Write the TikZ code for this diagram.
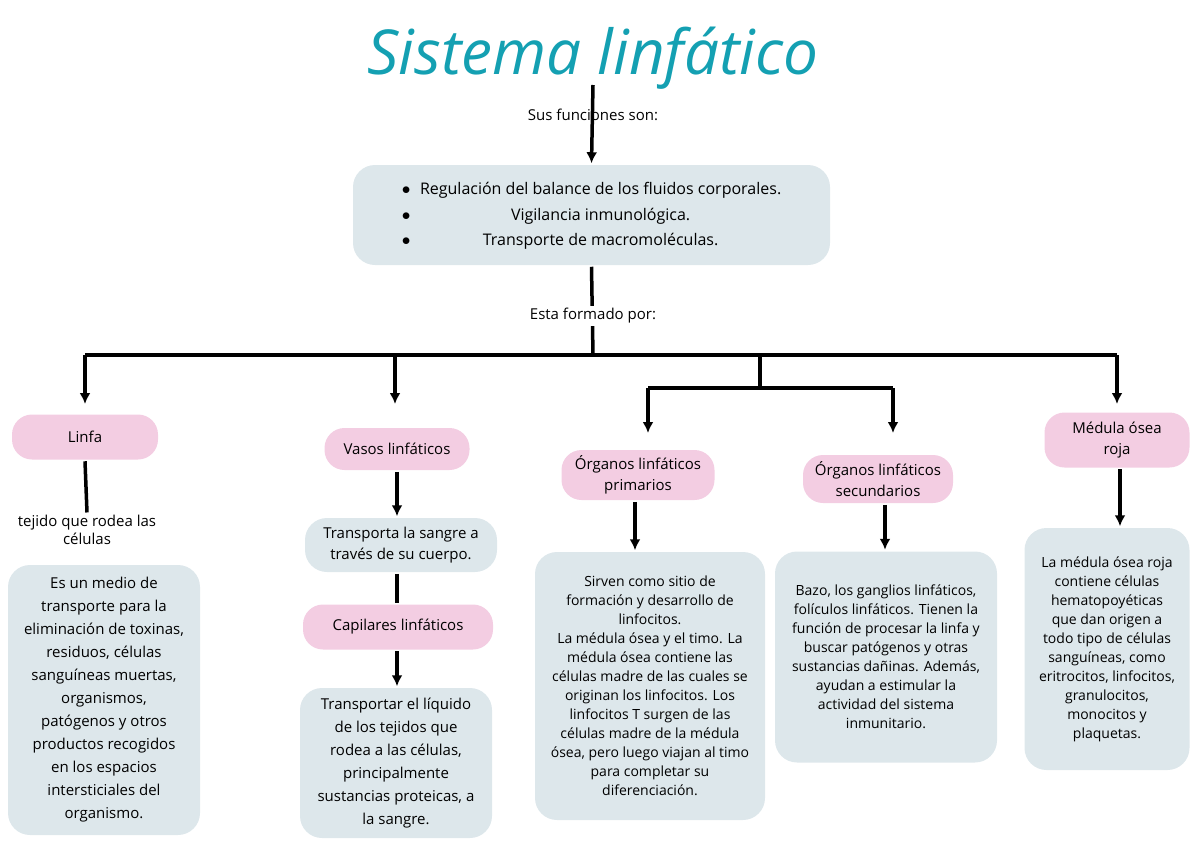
\documentclass[tikz,border=0pt]{standalone}
\usepackage{fontspec}
\setmainfont{Open Sans}
\usetikzlibrary{arrows.meta}
\definecolor{boxgray}{RGB}{221,231,235}
\definecolor{boxpink}{RGB}{243,205,226}
\definecolor{titleteal}{RGB}{20,160,178}
\tikzset{every picture/.style={line width=3.5pt}}
\tikzset{
  grayb/.style={fill=boxgray,draw=none,rounded corners=22pt,align=center,inner sep=2pt,font=\fontsize{14}{19}\selectfont},
  pinkb/.style={fill=boxpink,draw=none,rounded corners=20pt,align=center,inner sep=2pt,font=\fontsize{15}{21}\selectfont},
  lbl/.style={fill=white,inner sep=2pt,font=\fontsize{15}{18}\selectfont},
  arr/.style={-{Latex[length=11pt,width=11pt]}},
}
\begin{document}
\begin{tikzpicture}[x=1pt,y=-1pt]
	\useasboundingbox (0,0) rectangle (1200,849);
	
	% Title
	\node (title) at (593,58) [text=titleteal,font=\fontsize{62}{62}\selectfont\itshape] {Sistema linfático};
	
	% Funciones
	\coordinate (t0) at (593,85);
	\node (fun) at (593,115) [lbl] {Sus funciones son:};
	\node (func) at (591.5,215) [grayb,minimum width=477pt,minimum height=100pt,font=\fontsize{16}{24}\selectfont] {\renewcommand{\arraystretch}{1.05}\begin{tabular}{@{}c@{\hspace{0.6em}}c@{}}$\bullet$ & Regulación del balance de los fluidos corporales.\\ $\bullet$ & Vigilancia inmunológica.\\ $\bullet$ & Transporte de macromoléculas.\end{tabular}};
	\draw [arr] (t0) -- (func.north);
	\draw (func.south) -- (593,355);
	\node (esta) at (593,316) [lbl] {Esta formado por:};
	
	% Branches
	\coordinate (h1) at (85,355);
	\coordinate (h2) at (395,355);
	\coordinate (h3) at (760,355);
	\coordinate (h4) at (1117,355);
	\draw (h1) -- (h4);
	\coordinate (o0) at (760,388);
	\coordinate (o1) at (648,388);
	\coordinate (o2) at (893,388);
	\draw (h3) -- (o0);
	\draw (o1) -- (o2);
	
	% Pink nodes
	\node (linfa) at (85,437) [pinkb,minimum width=146pt,minimum height=45pt] {Linfa};
	\node (vasos) at (397,449) [pinkb,minimum width=145pt,minimum height=42pt] {Vasos linfáticos};
	\node (prim) at (638,475) [pinkb,minimum width=153pt,minimum height=50pt] {Órganos linfáticos\\primarios};
	\node (sec) at (878,479) [pinkb,minimum width=150pt,minimum height=48pt] {Órganos linfáticos\\secundarios};
	\node (med) at (1117,440) [pinkb,minimum width=145pt,minimum height=55pt] {Médula ósea\\roja};
	\draw [arr] (h1) -- (85,404);
	\draw [arr] (h2) -- (395,404);
	\draw [arr] (o1) -- (648,433);
	\draw [arr] (o2) -- (893,433);
	\draw [arr] (h4) -- (1117,404);
	
	% Linfa
	\node (tej) at (87,530) [align=center,inner sep=1pt,fill=white,font=\fontsize{15}{18}\selectfont] {tejido que rodea las\\células};
	\draw (linfa.south) -- (tej.north);
	\node (medio) at (104,700) [grayb,minimum width=192pt,minimum height=270pt,font=\fontsize{15}{23}\selectfont] {Es un medio de\\transporte para la\\eliminación de toxinas,\\residuos, células\\sanguíneas muertas,\\organismos,\\patógenos y otros\\productos recogidos\\en los espacios\\intersticiales del\\organismo.};
	
	% Vasos
	\node (trans) at (401,545) [grayb,minimum width=192pt,minimum height=54pt,font=\fontsize{15}{21}\selectfont] {Transporta la sangre a\\través de su cuerpo.};
	\draw [arr] (vasos.south -| 397,0) -- (trans.north -| 397,0);
	\node (capi) at (398,627) [pinkb,minimum width=190pt,minimum height=45pt] {Capilares linfáticos};
	\draw (trans.south -| 397,0) -- (capi.north -| 397,0);
	\node (liq) at (396,763) [grayb,minimum width=192pt,minimum height=150pt,font=\fontsize{15}{23}\selectfont] {Transportar el líquido\\de los tejidos que\\rodea a las células,\\principalmente\\sustancias proteicas, a\\la sangre.};
	\draw [arr] (capi.south -| 397,0) -- (liq.north -| 397,0);
	
	% Primarios
	\node (sirv) at (650,686) [grayb,minimum width=230pt,minimum height=268pt] {Sirven como sitio de\\formación y desarrollo de\\linfocitos.\\La médula ósea y el timo. La\\médula ósea contiene las\\células madre de las cuales se\\originan los linfocitos. Los\\linfocitos T surgen de las\\células madre de la médula\\ósea, pero luego viajan al timo\\para completar su\\diferenciación.};
	\draw [arr] (prim.south -| 635,0) -- (sirv.north -| 635,0);
	
	% Secundarios
	\node (bazo) at (886,657) [grayb,minimum width=222pt,minimum height=211pt] {Bazo, los ganglios linfáticos,\\folículos linfáticos.  Tienen la\\función de procesar la linfa y\\buscar patógenos y otras\\sustancias dañinas. Además,\\ayudan a estimular la\\actividad del sistema\\inmunitario.};
	\draw [arr] (sec.south -| 885,0) -- (bazo.north -| 885,0);
	
	% Medula
	\node (lamed) at (1107,649) [grayb,minimum width=165pt,minimum height=242pt] {La médula ósea roja\\contiene  células\\hematopoyéticas\\que dan origen a\\todo tipo de células\\sanguíneas, como\\eritrocitos, linfocitos,\\granulocitos,\\monocitos y\\plaquetas.};
	\draw [arr] (med.south -| 1120,0) -- (lamed.north -| 1120,0);
	
\end{tikzpicture}
\end{document}
